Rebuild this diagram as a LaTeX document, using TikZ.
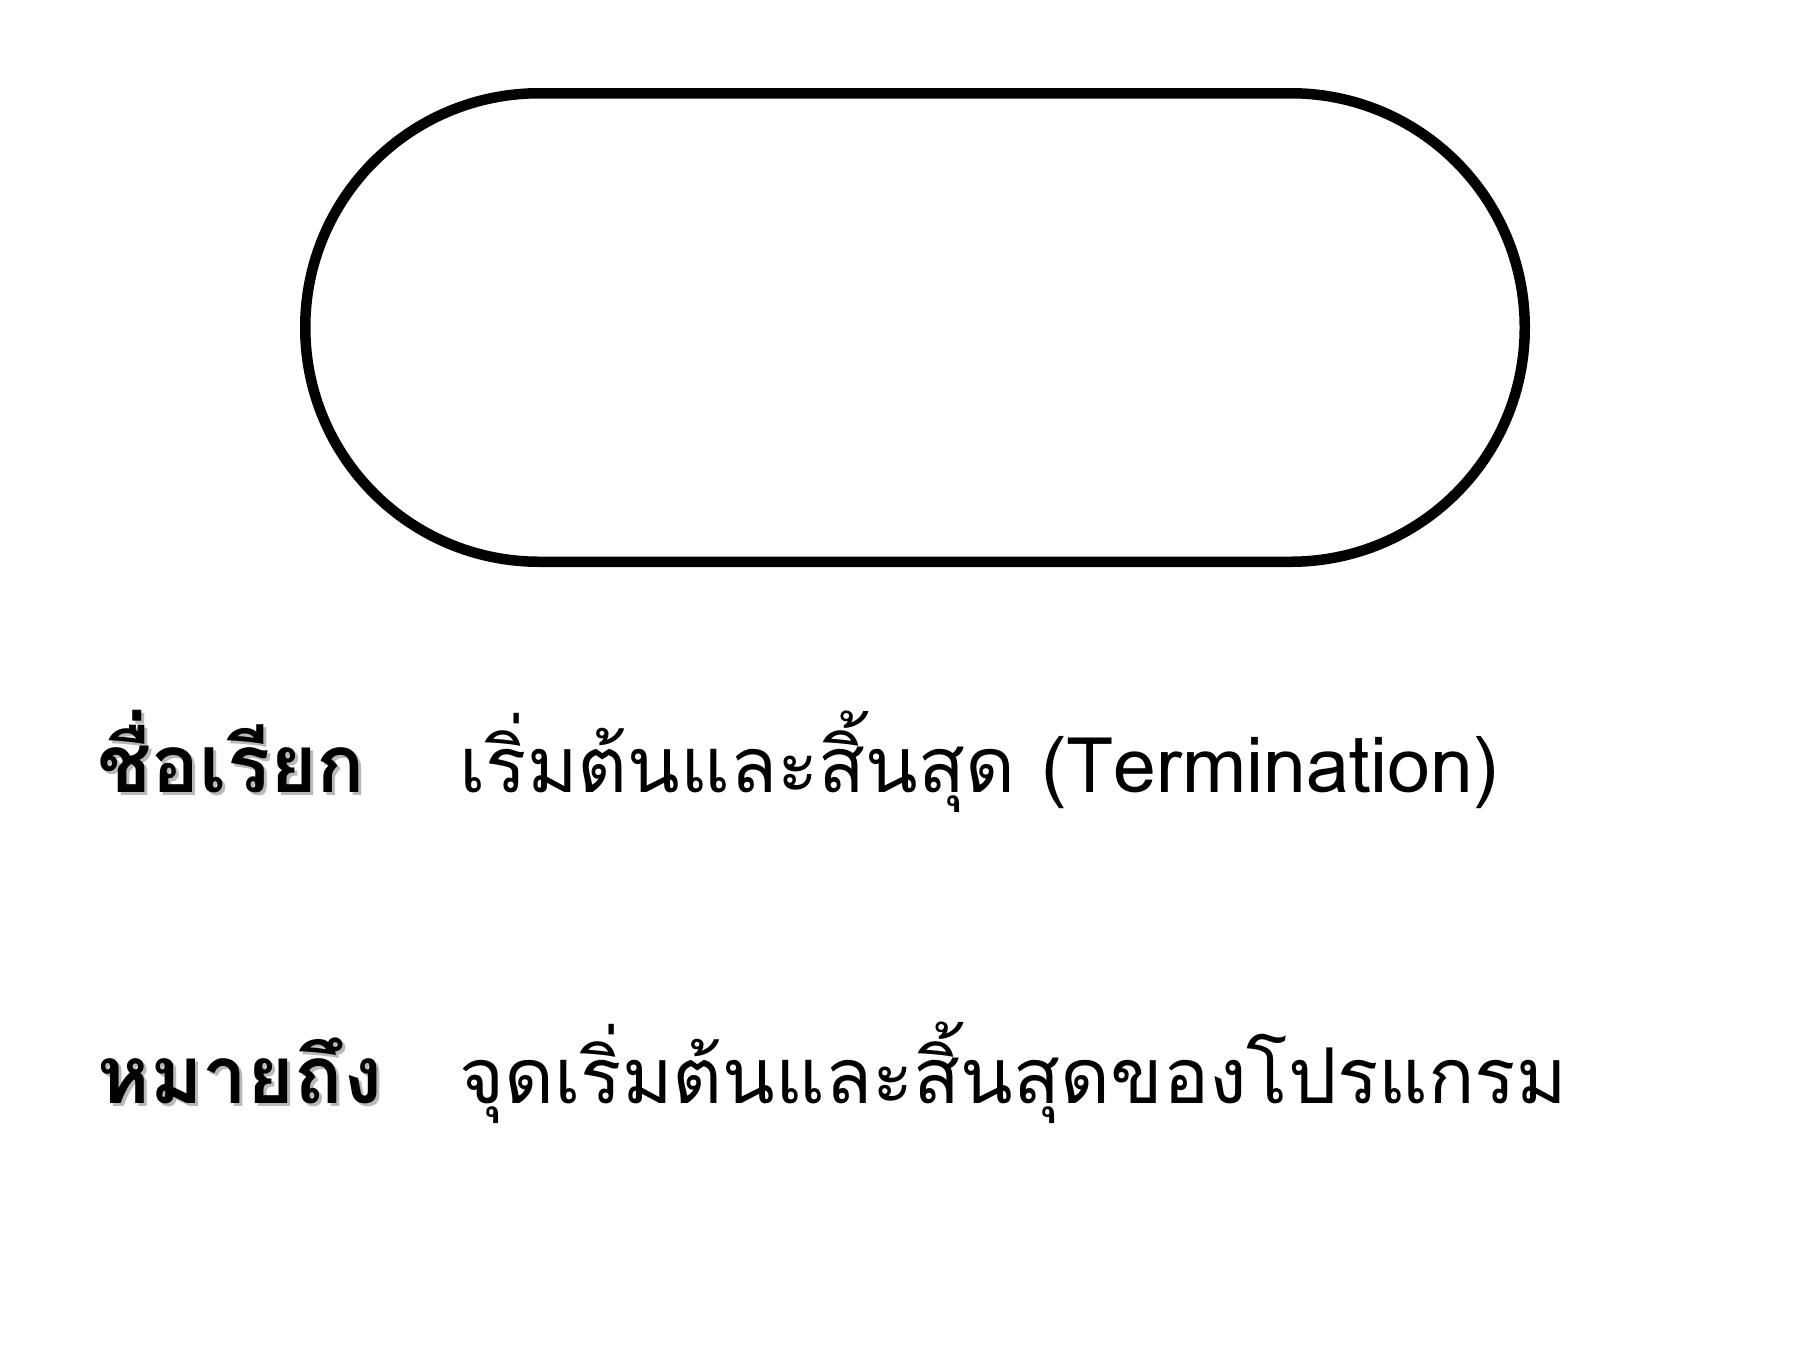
\documentclass[tikz,border=0pt]{standalone}
\usepackage{fontspec}
\newfontfamily\thaifont[Script=Thai]{Loma}
\begin{document}
\begin{tikzpicture}[x=0.5pt,y=-0.5pt,
    namebox/.style={font=\thaifont\bfseries\fontsize{40}{46}\selectfont, anchor=base west, inner sep=0pt},
    descbox/.style={font=\thaifont\fontsize{38.5}{44}\selectfont, anchor=base west, inner sep=0pt}]
    \useasboundingbox (0,0) rectangle (1800,1350);
    \node[draw, line width=5.25pt, minimum width=609.75pt, minimum height=234.25pt, rounded corners=117pt] (terminal) at (915,327.5) {};
    % names, with their grey shadow
    \node[namebox, gray!55] (nameshadow) at (100,795) {ชื่อเรียก};
    \node[namebox] (name) at (97,792) {ชื่อเรียก};
    \node[descbox] (namedesc) at (459,792) {เริ่มต้นและสิ้นสุด (Termination)};
    \node[namebox, gray!55] (meanshadow) at (100,1106) {หมายถึง};
    \node[namebox] (mean) at (97,1103) {หมายถึง};
    \node[descbox] (meandesc) at (459,1103) {จุดเริ่มต้นและสิ้นสุดของโปรแกรม};
\end{tikzpicture}
\end{document}
